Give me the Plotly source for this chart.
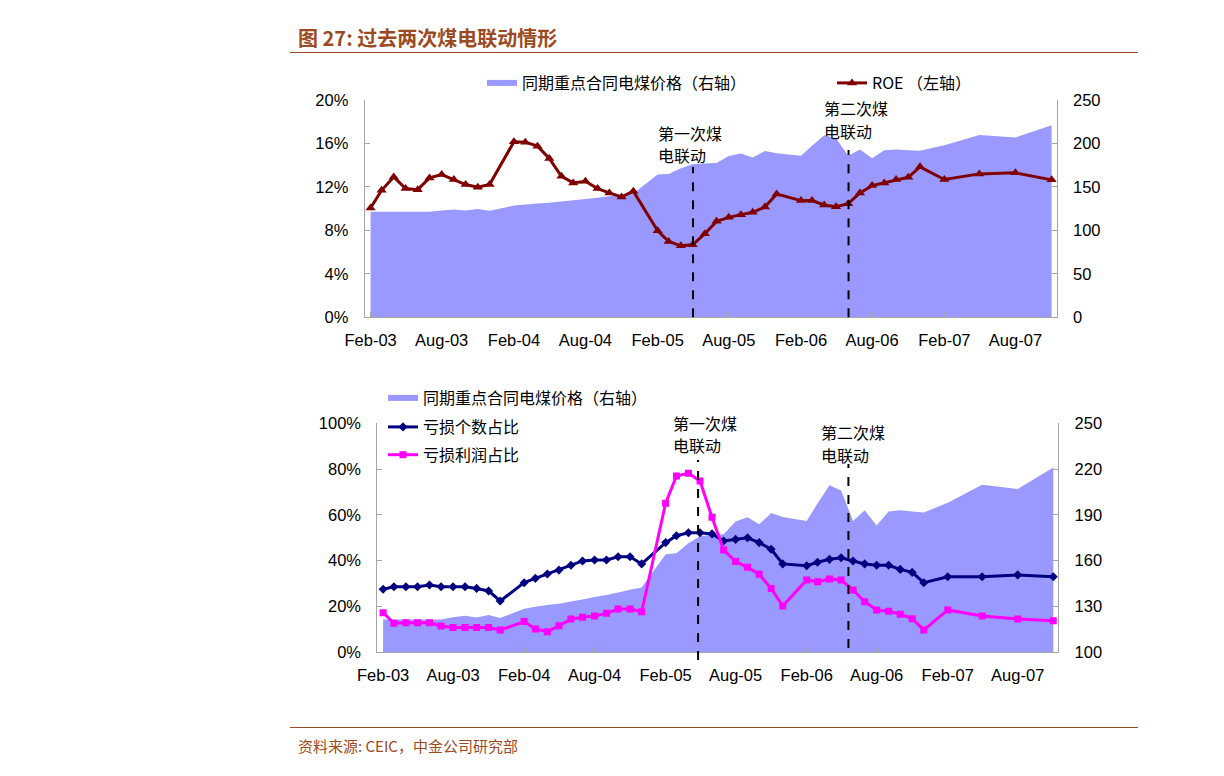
import plotly.graph_objects as go

# ---------------- data ----------------
months = (
    ["2003-%02d" % m for m in range(2, 13)]
    + ["2004-%02d" % m for m in range(2, 13)]
    + ["2005-%02d" % m for m in range(2, 13)]
    + ["2006-%02d" % m for m in range(2, 13)]
    + ["2007-02", "2007-05", "2007-08", "2007-11"]
)

coal_price = [
    121.5, 121.5, 121.5, 121.5, 121.5, 121.5, 123.0, 124.0, 122.8, 124.5, 122.5,
    128.5, 129.9, 131.0, 131.8, 133.2, 134.6, 136.2, 137.6, 139.2, 141.0, 142.5,
    164.3, 164.8, 171.5, 176.0, 177.0, 177.4, 185.6, 188.4, 183.8, 191.2, 188.6,
    186.0, 197.5, 209.5, 206.0, 186.0, 193.0, 183.0, 192.2, 193.0, 192.2, 191.6,
    198.0, 209.7, 207.0, 221.0,
]

roe = [
    10.06, 11.69, 12.92, 11.85, 11.75, 12.83, 13.14, 12.68, 12.22, 11.97, 12.22,
    16.16, 16.12, 15.75, 14.62, 12.98, 12.37, 12.52, 11.85, 11.45, 11.08, 11.60,
    7.97, 6.98, 6.58, 6.67, 7.69, 8.83, 9.20, 9.45, 9.66, 10.15, 11.35,
    10.74, 10.74, 10.34, 10.18, 10.46, 11.45, 12.12, 12.37, 12.68, 12.89, 13.85,
    12.68, 13.20, 13.30, 12.65,
]

loss_count_share = [
    27.5, 28.6, 28.6, 28.6, 29.4, 28.6, 28.6, 28.6, 27.9, 26.8, 22.4,
    30.4, 32.3, 34.2, 35.9, 38.0, 39.9, 40.3, 40.3, 41.7, 41.7, 38.6,
    47.9, 50.9, 52.2, 52.2, 51.7, 48.6, 49.3, 50.0, 47.9, 45.0, 38.6,
    37.8, 39.3, 40.6, 41.3, 39.9, 38.6, 38.0, 38.0, 36.2, 34.9, 30.4,
    33.0, 33.0, 33.8, 33.0,
]

loss_profit_share = [
    17.3, 12.7, 12.9, 12.9, 12.9, 11.5, 10.8, 10.8, 10.8, 10.8, 9.7,
    13.4, 10.2, 9.0, 11.6, 14.5, 15.3, 15.9, 17.0, 18.9, 18.9, 17.7,
    65.1, 77.0, 78.2, 74.8, 59.0, 44.7, 39.6, 37.1, 34.1, 27.9, 20.2,
    31.6, 30.8, 32.0, 31.6, 27.2, 22.1, 18.5, 17.9, 16.6, 14.7, 9.7,
    18.5, 15.9, 14.5, 13.8,
]

roe_ticks = [0, 4, 8, 12, 16, 20]
price_ticks_top = [0, 50, 100, 150, 200, 250]
share_ticks = [0, 20, 40, 60, 80, 100]
price_ticks_bottom = [100, 130, 160, 190, 220, 250]

# dates of the two coal-power price linkages (marker lines)
linkage_top = ["2005-05-02", "2006-06-02"]
linkage_bottom = ["2005-04-26", "2006-05-20"]
linkage_label_1 = ["第一次煤", "电联动"]
linkage_label_2 = ["第二次煤", "电联动"]

title_text = "图 27: 过去两次煤电联动情形"
source_text = "资料来源: CEIC，中金公司研究部"

# ---------------- layout helpers ----------------
W, H = 1224, 776
def px(x):
    return x / W
def py(y):
    return 1 - y / H

dates = [m + "-01" for m in months]
XRANGE = ["2003-01-17", "2007-11-14"]

AREA_COLOR = "#9999FF"
AXIS_COLOR = "#A6A6A6"
BROWN = "#9C4A22"
NUM_FONT = "Liberation Sans, Arial, sans-serif"
CJK_FONT = "Noto Sans CJK SC, sans-serif"

fig = go.Figure()

# top chart
fig.add_trace(go.Scatter(
    x=dates, y=coal_price, name="同期重点合同电煤价格（右轴）",
    mode="none", fill="tozeroy", fillcolor=AREA_COLOR, showlegend=True,
    xaxis="x", yaxis="y", legend="legend",
))
fig.add_trace(go.Scatter(
    x=dates, y=roe, name="ROE （左轴）", showlegend=True,
    mode="lines+markers", line=dict(color="#800000", width=3),
    marker=dict(symbol="triangle-up", size=9, color="#800000"),
    xaxis="x", yaxis="y2", legend="legend2",
))

# bottom chart
fig.add_trace(go.Scatter(
    x=dates, y=coal_price, name="同期重点合同电煤价格（右轴）",
    mode="none", fill="tozeroy", fillcolor=AREA_COLOR, showlegend=True,
    xaxis="x2", yaxis="y3", legend="legend3",
))
fig.add_trace(go.Scatter(
    x=dates, y=loss_count_share, name="亏损个数占比", showlegend=True,
    mode="lines+markers", line=dict(color="#000080", width=3),
    marker=dict(symbol="diamond", size=7, color="#000080"),
    xaxis="x2", yaxis="y4", legend="legend4", legendgroup="a",
))
fig.add_trace(go.Scatter(
    x=dates, y=loss_profit_share, name="亏损利润占比", showlegend=True,
    mode="lines+markers", line=dict(color="#FF00FF", width=3),
    marker=dict(symbol="square", size=7, color="#FF00FF"),
    xaxis="x2", yaxis="y4", legend="legend4", legendgroup="b",
))

tickfont = dict(family=NUM_FONT, size=16.5, color="#000000")
common_x = dict(
    type="date", range=XRANGE, dtick="M6", tick0="2003-02-01",
    tickformat="%b-%y", showgrid=False, zeroline=False, showline=True,
    linecolor=AXIS_COLOR, linewidth=1, ticks="inside", ticklen=5,
    tickcolor=AXIS_COLOR, tickfont=tickfont, ticklabelstandoff=8,
    automargin=False,
)
common_y = dict(
    showgrid=False, zeroline=False, showline=True, linecolor=AXIS_COLOR,
    linewidth=1, ticks="inside", ticklen=5, tickcolor=AXIS_COLOR,
    tickfont=tickfont, ticklabelstandoff=12, automargin=False,
)

top_dom_y = [py(317.3), py(100)]
bot_dom_y = [py(652.3), py(423.3)]

fig.update_layout(
    width=W, height=H,
    margin=dict(l=0, r=0, t=0, b=0, pad=0, autoexpand=False),
    paper_bgcolor="white", plot_bgcolor="white", showlegend=True,
    xaxis=dict(domain=[px(364.7), px(1056.7)], anchor="y", **common_x),
    yaxis=dict(domain=top_dom_y, anchor="x", side="right", range=[0, 250],
               tickvals=price_ticks_top, **common_y),
    yaxis2=dict(overlaying="y", anchor="x", side="left", range=[0, 20],
                tickvals=roe_ticks, ticktext=[f"{v}%" for v in roe_ticks],
                **common_y),
    xaxis2=dict(domain=[px(377.3), px(1058.3)], anchor="y3", **common_x),
    yaxis3=dict(domain=bot_dom_y, anchor="x2", side="right", range=[100, 250],
                tickvals=price_ticks_bottom, **common_y),
    yaxis4=dict(overlaying="y3", anchor="x2", side="left", range=[0, 100],
                tickvals=share_ticks, ticktext=[f"{v}%" for v in share_ticks],
                **common_y),
)

legend_font = dict(family=CJK_FONT, size=16, color="#000000")
leg_common = dict(bgcolor="rgba(0,0,0,0)", borderwidth=0, font=legend_font,
                  xref="paper", yref="paper", xanchor="left", yanchor="middle",
                  itemclick=False, itemdoubleclick=False, visible=True)
fig.update_layout(
    legend=dict(x=px(482), y=py(83), **leg_common),
    legend2=dict(x=px(832), y=py(83), **leg_common),
    legend3=dict(x=px(383), y=py(398), **leg_common),
    legend4=dict(x=px(383), y=py(441), tracegroupgap=4, **leg_common),
)

shapes = []
# title rule and footer rule
shapes.append(dict(type="line", xref="paper", yref="paper",
                   x0=px(290), x1=px(1138), y0=py(52.5), y1=py(52.5),
                   line=dict(color=BROWN, width=1)))
shapes.append(dict(type="line", xref="paper", yref="paper",
                   x0=px(290), x1=px(1138), y0=py(727.5), y1=py(727.5),
                   line=dict(color=BROWN, width=1)))
# linkage dashed lines
for d, y0 in zip(linkage_top, [167, 150]):
    shapes.append(dict(type="line", xref="x", yref="paper", x0=d, x1=d,
                       y0=py(317.3), y1=py(y0),
                       line=dict(color="#000000", width=2, dash="dash")))
for d, (y0, y1) in zip(linkage_bottom, [(460, 660), (464, 648)]):
    shapes.append(dict(type="line", xref="x2", yref="paper", x0=d, x1=d,
                       y0=py(y1), y1=py(y0),
                       line=dict(color="#000000", width=2, dash="dash")))
fig.update_layout(shapes=shapes)

ann_font = dict(family=CJK_FONT, size=16, color="#000000")
annotations = [
    dict(text=title_text, xref="paper", yref="paper", x=px(296), y=py(37),
         xanchor="left", yanchor="middle", showarrow=False,
         font=dict(family=CJK_FONT, size=20, color=BROWN, weight="bold")),
    dict(text=source_text, xref="paper", yref="paper", x=px(296), y=py(745),
         xanchor="left", yanchor="middle", showarrow=False,
         font=dict(family=CJK_FONT, size=15, color=BROWN)),
]
# linkage labels: one annotation per text line
label_specs = [
    (linkage_label_1, 656, 133),
    (linkage_label_2, 822, 108),
    (linkage_label_1, 671, 423),
    (linkage_label_2, 819, 432),
]
for lines, x0, y0 in label_specs:
    for i, line in enumerate(lines):
        annotations.append(dict(
            text=line, xref="paper", yref="paper", x=px(x0), y=py(y0 + 22.5 * i),
            xanchor="left", yanchor="middle", showarrow=False, font=ann_font,
        ))
fig.update_layout(annotations=annotations)

fig.write_html("out.html")
